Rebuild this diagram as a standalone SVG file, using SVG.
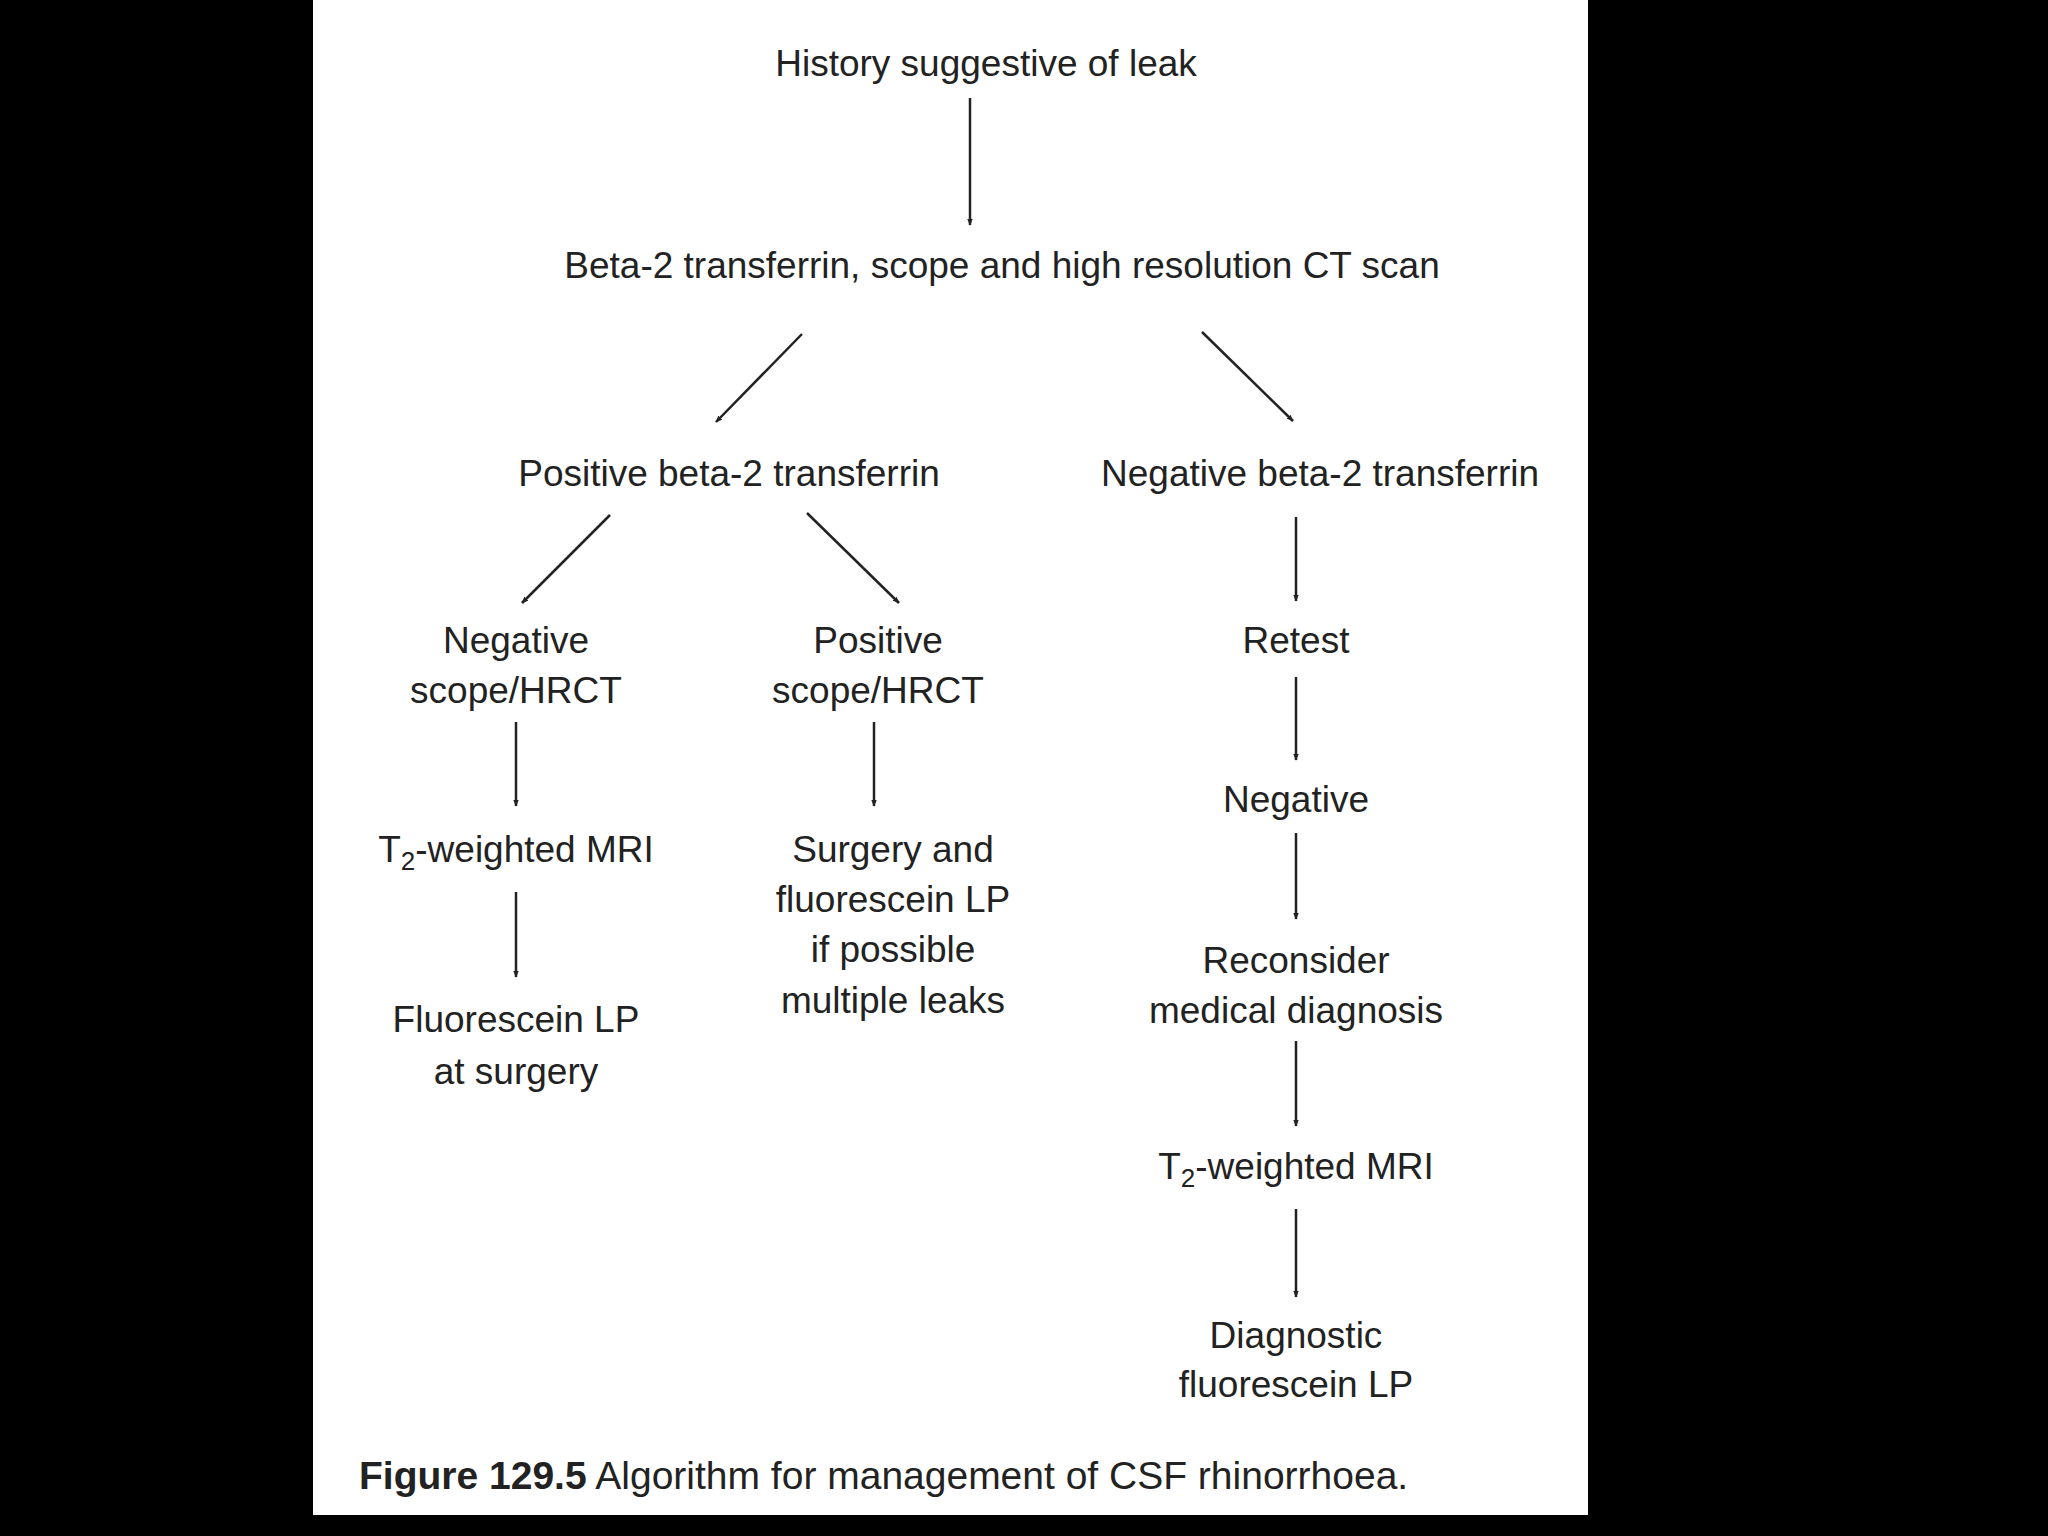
<svg xmlns="http://www.w3.org/2000/svg" width="2048" height="1536" viewBox="0 0 2048 1536">
<style>
text{font-family:"Liberation Sans",Arial,sans-serif;font-size:37px;fill:#222;text-anchor:middle}
.c{font-size:39px;text-anchor:start}
line{stroke:#222;stroke-width:2.5;marker-end:url(#a)}
</style>
<defs><marker id="a" viewBox="0 0 10 10" refX="9" refY="5" markerWidth="7" markerHeight="7" orient="auto" markerUnits="userSpaceOnUse" ><path d="M0,1 L10,5 L0,9 z" fill="#222"/></marker></defs>
<rect width="2048" height="1536" fill="#000"/>
<rect x="313" y="0" width="1275" height="1515" fill="#fff"/>
<g id="n1"><text x="986" y="76">History suggestive of leak</text></g>
<g id="n2"><text x="1002" y="278">Beta-2 transferrin, scope and high resolution CT scan</text></g>
<g id="n3"><text x="729" y="486">Positive beta-2 transferrin</text></g>
<g id="n4"><text x="1101" y="486" style="text-anchor:start">Negative beta-2 transferrin</text></g>
<g id="n5"><text x="516" y="653">Negative</text><text x="516" y="703">scope/HRCT</text></g>
<g id="n6"><text x="878" y="653">Positive</text><text x="878" y="703">scope/HRCT</text></g>
<g id="n7"><text x="516" y="862">T<tspan font-size="26" dy="8">2</tspan><tspan dy="-8">-weighted MRI</tspan></text></g>
<g id="n8"><text x="516" y="1032">Fluorescein LP</text><text x="516" y="1084">at surgery</text></g>
<g id="n9"><text x="893" y="862">Surgery and</text><text x="893" y="912">fluorescein LP</text><text x="893" y="962">if possible</text><text x="893" y="1013">multiple leaks</text></g>
<g id="n10"><text x="1296" y="653">Retest</text></g>
<g id="n11"><text x="1296" y="812">Negative</text></g>
<g id="n12"><text x="1296" y="973">Reconsider</text><text x="1296" y="1023">medical diagnosis</text></g>
<g id="n13"><text x="1296" y="1179">T<tspan font-size="26" dy="8">2</tspan><tspan dy="-8">-weighted MRI</tspan></text></g>
<g id="n14"><text x="1296" y="1348">Diagnostic</text><text x="1296" y="1397">fluorescein LP</text></g>
<g id="caption"><text class="c" x="359" y="1489"><tspan font-weight="bold">Figure 129.5</tspan>   Algorithm for management of CSF rhinorrhoea.</text></g>
<g id="connectors">
<line x1="970" y1="98" x2="970" y2="225"/>
<line x1="802" y1="334" x2="716" y2="422"/>
<line x1="1202" y1="332" x2="1293" y2="421"/>
<line x1="610" y1="515" x2="522" y2="603"/>
<line x1="807" y1="513" x2="899" y2="603"/>
<line x1="516" y1="722" x2="516" y2="806"/>
<line x1="874" y1="722" x2="874" y2="806"/>
<line x1="516" y1="892" x2="516" y2="977"/>
<line x1="1296" y1="517" x2="1296" y2="601"/>
<line x1="1296" y1="677" x2="1296" y2="760"/>
<line x1="1296" y1="833" x2="1296" y2="919"/>
<line x1="1296" y1="1041" x2="1296" y2="1126"/>
<line x1="1296" y1="1209" x2="1296" y2="1297"/>
</g>
</svg>
